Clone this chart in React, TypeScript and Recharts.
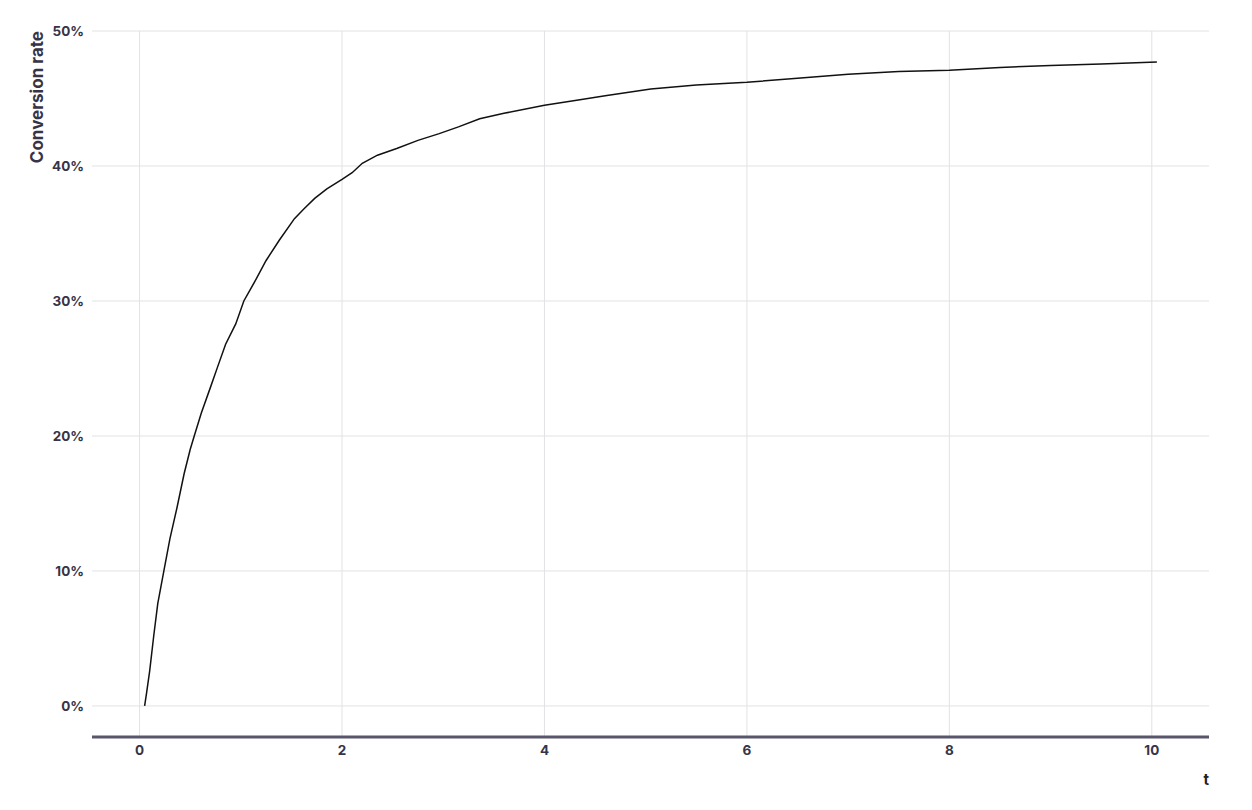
import React from 'react';
import { LineChart, Line, XAxis, YAxis, ReferenceLine, Label } from 'recharts';

// time since start (t) and cumulative conversion rate in %
const tValues = [
  0.05, 0.07, 0.1, 0.14, 0.18, 0.24, 0.3, 0.37, 0.44, 0.5, 0.54, 0.61, 0.7, 0.77, 0.85, 0.95,
  1.03, 1.15, 1.25, 1.38, 1.53, 1.62, 1.73, 1.85, 2.0, 2.1, 2.2, 2.35, 2.54, 2.75, 2.96, 3.15,
  3.36, 3.6, 4.0, 4.35, 4.6, 5.05, 5.5, 6.0, 6.5, 7.0, 7.5, 8.0, 8.5, 9.0, 9.5, 10.05
];
const rateValues = [
  0, 1.0, 2.6, 5.2, 7.6, 10.0, 12.4, 14.7, 17.2, 19.0, 20.0, 21.7, 23.6, 25.1, 26.8, 28.3,
  30.0, 31.6, 33.0, 34.5, 36.1, 36.8, 37.6, 38.3, 39.0, 39.5, 40.2, 40.8, 41.3, 41.9, 42.4, 42.9,
  43.5, 43.9, 44.5, 44.9, 45.2, 45.7, 46.0, 46.2, 46.5, 46.8, 47.0, 47.1, 47.3, 47.45, 47.55, 47.7
];
const xTicks = [0, 2, 4, 6, 8, 10];
const yTicks = [0, 10, 20, 30, 40, 50];

const data = tValues.map((t, i) => ({ t, rate: rateValues[i] }));

const textColor = '#363446';
const gridColor = '#e2e2e6';
const fontFamily = 'Inter, "Open Sans", sans-serif';

const YTitle = ({ viewBox }: any) => {
  const x = 35;
  const y = viewBox.y;
  return (
    <text
      x={x}
      y={y}
      transform={`rotate(-90, ${x}, ${y})`}
      textAnchor="end"
      fill={textColor}
      fontSize={17}
      fontWeight={700}
      fontFamily={fontFamily}
    >
      Conversion rate
    </text>
  );
};

export default function App() {
  return (
    <div style={{ margin: 0 }}>
      <LineChart
        width={1244}
        height={802}
        data={data}
        margin={{ top: 23, right: 43, left: 0, bottom: 25 }}
      >
        {xTicks.map((t) => (
          <ReferenceLine key={`vx${t}`} x={t} stroke={gridColor} strokeWidth={1} />
        ))}
        {yTicks.map((v) => (
          <ReferenceLine key={`hy${v}`} y={v} stroke={gridColor} strokeWidth={1} />
        ))}
        <XAxis
          dataKey="t"
          type="number"
          domain={[-0.47, 10.565]}
          ticks={xTicks}
          allowDataOverflow
          height={48}
          tickLine={false}
          axisLine={{ stroke: '#58566a', strokeWidth: 3 }}
          tick={{ fill: textColor, fontSize: 13.5, fontWeight: 700, fontFamily }}
          tickSize={6}
          tickMargin={2}
        >
          <Label
            value="t"
            position="insideBottomRight"
            offset={0}
            fill="#222"
            fontSize={15}
            fontWeight={700}
            fontFamily={fontFamily}
          />
        </XAxis>
        <YAxis
          type="number"
          domain={[-2.3, 50]}
          ticks={yTicks}
          allowDataOverflow
          width={84}
          tickLine={false}
          axisLine={false}
          tickFormatter={(v: number) => `${v}%`}
          tick={{ fill: textColor, fontSize: 13.5, fontWeight: 700, fontFamily }}
          tickSize={6}
          tickMargin={2}
        >
          <Label content={<YTitle />} />
        </YAxis>
        <Line
          type="linear"
          dataKey="rate"
          stroke="#111111"
          strokeWidth={1.5}
          dot={false}
          isAnimationActive={false}
        />
      </LineChart>
    </div>
  );
}
